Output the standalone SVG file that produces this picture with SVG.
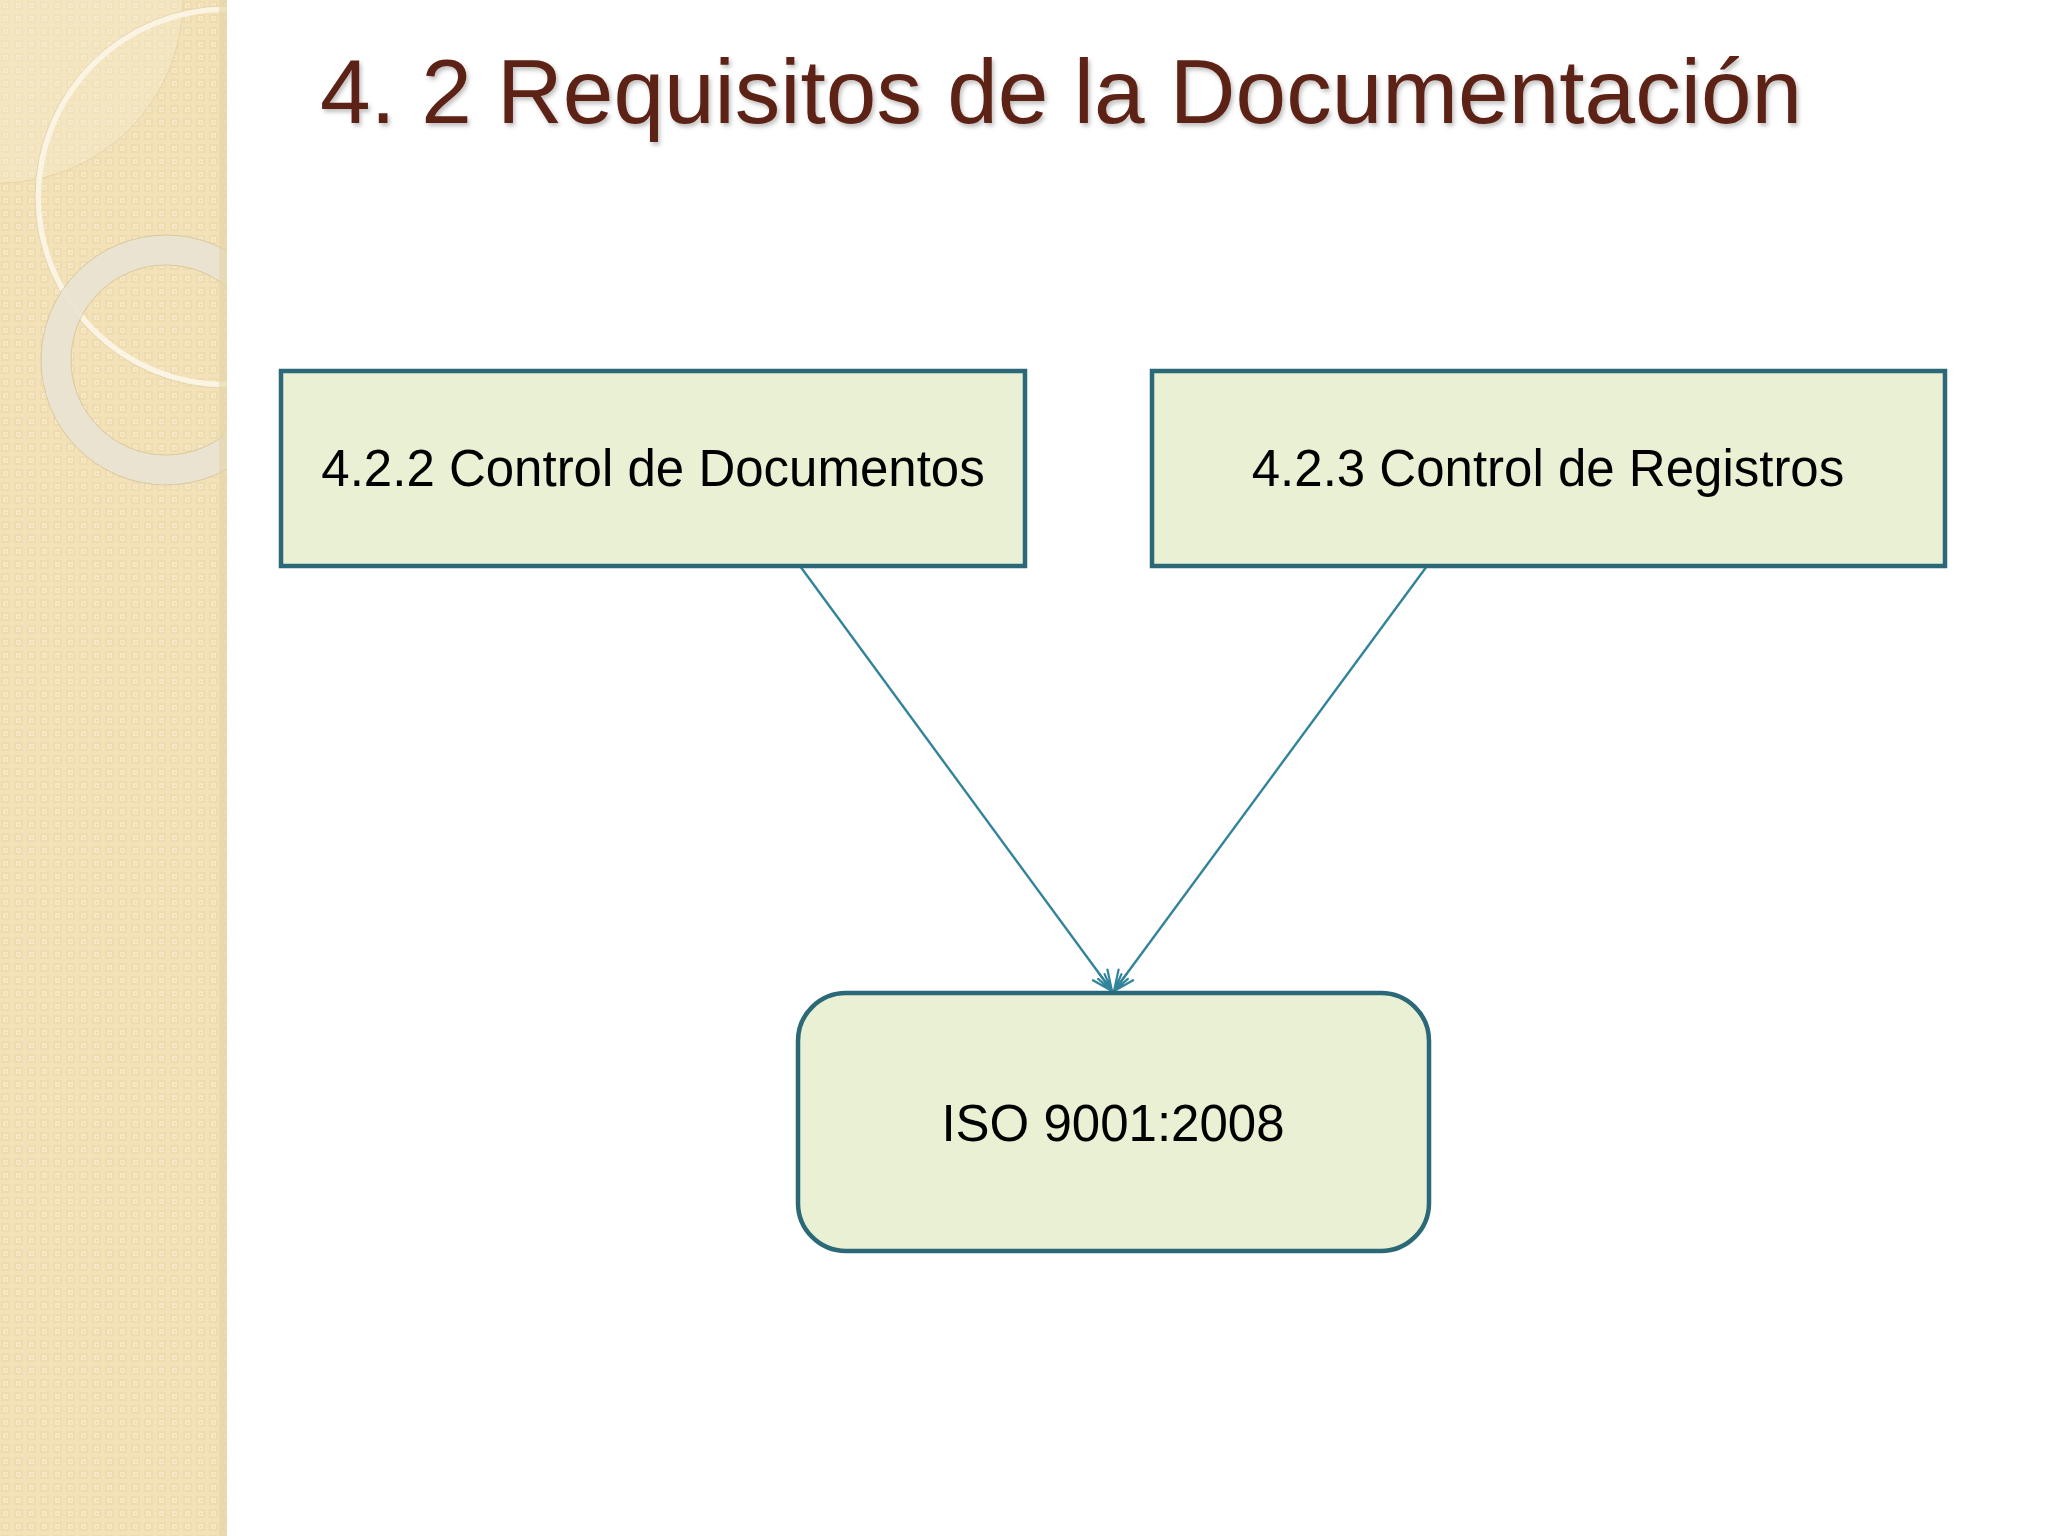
<svg xmlns="http://www.w3.org/2000/svg" width="2048" height="1536" viewBox="0 0 2048 1536">
  <defs>
    <style>
      .box { fill: #E9F0D3; stroke: #2B6878; stroke-width: 4.5; }
      .label { font-family: "Liberation Sans", Arial, sans-serif; font-size: 51px; fill: #000000; text-anchor: middle; }
      .title { font-family: "Liberation Sans", Arial, sans-serif; font-size: 91px; fill: #5C2115; }
      .conn { stroke: #31849B; stroke-width: 2.4; fill: none; }
    </style>
    <pattern id="weave" x="0" y="0" width="13" height="13" patternUnits="userSpaceOnUse">
      <rect width="13" height="13" fill="#F3E2B9"/>
      <rect x="1" y="1" width="9" height="9" fill="#EEDCAE"/>
      <rect x="3" y="3" width="5" height="5" fill="#F6E8C6"/>
      <rect x="5" y="5" width="1.5" height="1.5" fill="#EAD6A6"/>
    </pattern>
    <clipPath id="panelClip">
      <rect x="0" y="0" width="227" height="1536"/>
    </clipPath>
    <filter id="tshadow" x="-5%" y="-20%" width="110%" height="150%">
      <feDropShadow dx="2" dy="3" stdDeviation="2" flood-color="#000" flood-opacity="0.25"/>
    </filter>
    <marker id="openArrow" viewBox="0 0 24 24" refX="22" refY="12" markerWidth="24" markerHeight="24" markerUnits="userSpaceOnUse" orient="auto">
      <path d="M2,3 L22,12 L2,21 M4,8 L22,12 M4,16 L22,12 M1,12 L22,12" fill="none" stroke="#31849B" stroke-width="2.2" stroke-linecap="round"/>
    </marker>
  </defs>

  <rect x="0" y="0" width="2048" height="1536" fill="#FFFFFF"/>

  <g id="side-panel">
    <rect x="0" y="0" width="227" height="1536" fill="url(#weave)"/>
    <g clip-path="url(#panelClip)">
      <path d="M0,0 L183,0 A183,183 0 0 1 0,183 Z" fill="#F8EDD3" opacity="0.35"/>
      <path d="M183,0 A183,183 0 0 1 0,183" fill="none" stroke="#E6D4A8" stroke-width="1"/>
      <circle cx="226" cy="197" r="188" fill="none" stroke="#FBF4E2" stroke-width="6"/>
      <circle cx="226" cy="197" r="191" fill="none" stroke="#D9C79A" stroke-width="1" opacity="0.6"/>
      <circle cx="166" cy="360" r="110" fill="none" stroke="#E9E3D3" stroke-width="29" opacity="0.92"/>
      <circle cx="166" cy="360" r="95" fill="none" stroke="#CDBF99" stroke-width="1" opacity="0.7"/>
      <circle cx="166" cy="360" r="125" fill="none" stroke="#CDBF99" stroke-width="1" opacity="0.7"/>
    </g>
    <rect x="219" y="0" width="8" height="1536" fill="#E4D3A6" opacity="0.6"/>
  </g>

  <g id="title">
    <text class="title" x="320" y="123" filter="url(#tshadow)">4. 2 Requisitos de la Documentación</text>
  </g>

  <g id="connectors">
    <line class="conn" x1="800" y1="566" x2="1112" y2="991" marker-end="url(#openArrow)"/>
    <line class="conn" x1="1427" y1="566" x2="1114" y2="991" marker-end="url(#openArrow)"/>
  </g>

  <g id="node-control-documentos">
    <rect class="box" x="281" y="371" width="744" height="195"/>
    <text class="label" x="653" y="486">4.2.2 Control de Documentos</text>
  </g>

  <g id="node-control-registros">
    <rect class="box" x="1152" y="371" width="793" height="195"/>
    <text class="label" x="1548" y="486">4.2.3 Control de Registros</text>
  </g>

  <g id="node-iso">
    <rect class="box" x="798" y="993" width="631" height="258" rx="48" ry="48"/>
    <text class="label" x="1113" y="1141">ISO 9001:2008</text>
  </g>
</svg>
